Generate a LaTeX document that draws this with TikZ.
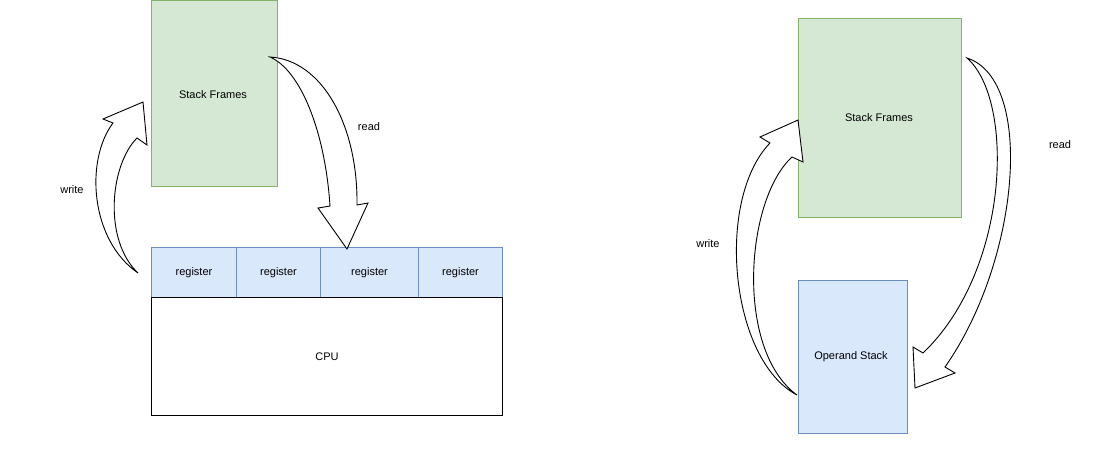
\documentclass[tikz,border=0pt]{standalone}
\usepackage{fontspec}
\setmainfont{Liberation Sans}
\definecolor{gfill}{HTML}{D5E8D4}
\definecolor{gdraw}{HTML}{82B366}
\definecolor{bfill}{HTML}{DAE8FC}
\definecolor{bdraw}{HTML}{6C8EBF}
\tikzset{
  greenbox/.style={draw=gdraw,fill=gfill,line width=1pt,anchor=north west,inner sep=0pt,font=\fontsize{11}{13}\selectfont},
  bluebox/.style={draw=bdraw,fill=bfill,line width=1pt,anchor=north west,inner sep=0pt,font=\fontsize{11}{13}\selectfont},
  whitebox/.style={draw=black,fill=white,line width=1pt,anchor=north west,inner sep=0pt,font=\fontsize{11}{13}\selectfont},
  fatarrow/.style={draw=black,fill=white,line width=0.9pt,line join=miter},
  lbl/.style={font=\fontsize{11}{13}\selectfont,inner sep=0pt}
}
\begin{document}
\begin{tikzpicture}[x=1pt,y=-1pt]
\useasboundingbox (0,0) rectangle (1104,461);
% left side
\node[greenbox,minimum width=126pt,minimum height=186pt] (sfL) at (151,0) {};
\node[lbl] (sfLt) at (213,95) {Stack Frames};
\node[bluebox,minimum width=85pt,minimum height=50pt] (r1) at (151,247) {register};
\node[bluebox,minimum width=84pt,minimum height=50pt] (r2) at (236,247) {register};
\node[bluebox,minimum width=98pt,minimum height=50pt] (r3) at (320,247) {register};
\node[bluebox,minimum width=84pt,minimum height=50pt] (r4) at (418,247) {register};
\node[whitebox,minimum width=351pt,minimum height=118pt] (cpu) at (151,297) {CPU};
% left write arrow
\coordinate (wLt) at (138,273);
\draw[fatarrow] (wLt) .. controls (90,240) and (85,160) .. (113,123)
  -- (103,119) -- (143,102) -- (147,145) -- (137,138)
  .. controls (110,165) and (103,240) .. (wLt) -- cycle;
\node[lbl] (wL) at (72,190) {write};
% left read arrow
\coordinate (rLt) at (270,57);
\draw[fatarrow] (rLt) .. controls (322,60) and (358,125) .. (357,205)
  -- (368,203) -- (347,249) -- (318,208) -- (330,206)
  .. controls (325,130) and (300,70) .. (rLt) -- cycle;
\node[lbl] (rL) at (369,127) {read};
% right side
\node[greenbox,minimum width=163pt,minimum height=199pt] (sfR) at (798,18) {};
\node[lbl] (sfRt) at (879,118) {Stack Frames};
\node[bluebox,minimum width=109pt,minimum height=153pt] (os) at (798,280) {};
\node[lbl] (ost) at (851,357) {Operand Stack};
% right write arrow
\coordinate (wRt) at (797,395);
\draw[fatarrow] (wRt) .. controls (730,360) and (715,200) .. (770,143)
  -- (760,137) -- (798,120) -- (803,162) -- (792,157)
  .. controls (745,200) and (735,350) .. (wRt) -- cycle;
\node[lbl] (wR) at (708,244) {write};
% right read arrow
\coordinate (rRt) at (967,58);
\draw[fatarrow] (rRt) .. controls (1035,80) and (1020,260) .. (945,367)
  -- (955,373) -- (915,388) -- (913,347) -- (923,353)
  .. controls (1010,270) and (1015,100) .. (rRt) -- cycle;
\node[lbl] (rR) at (1060,145) {read};
\end{tikzpicture}
\end{document}
